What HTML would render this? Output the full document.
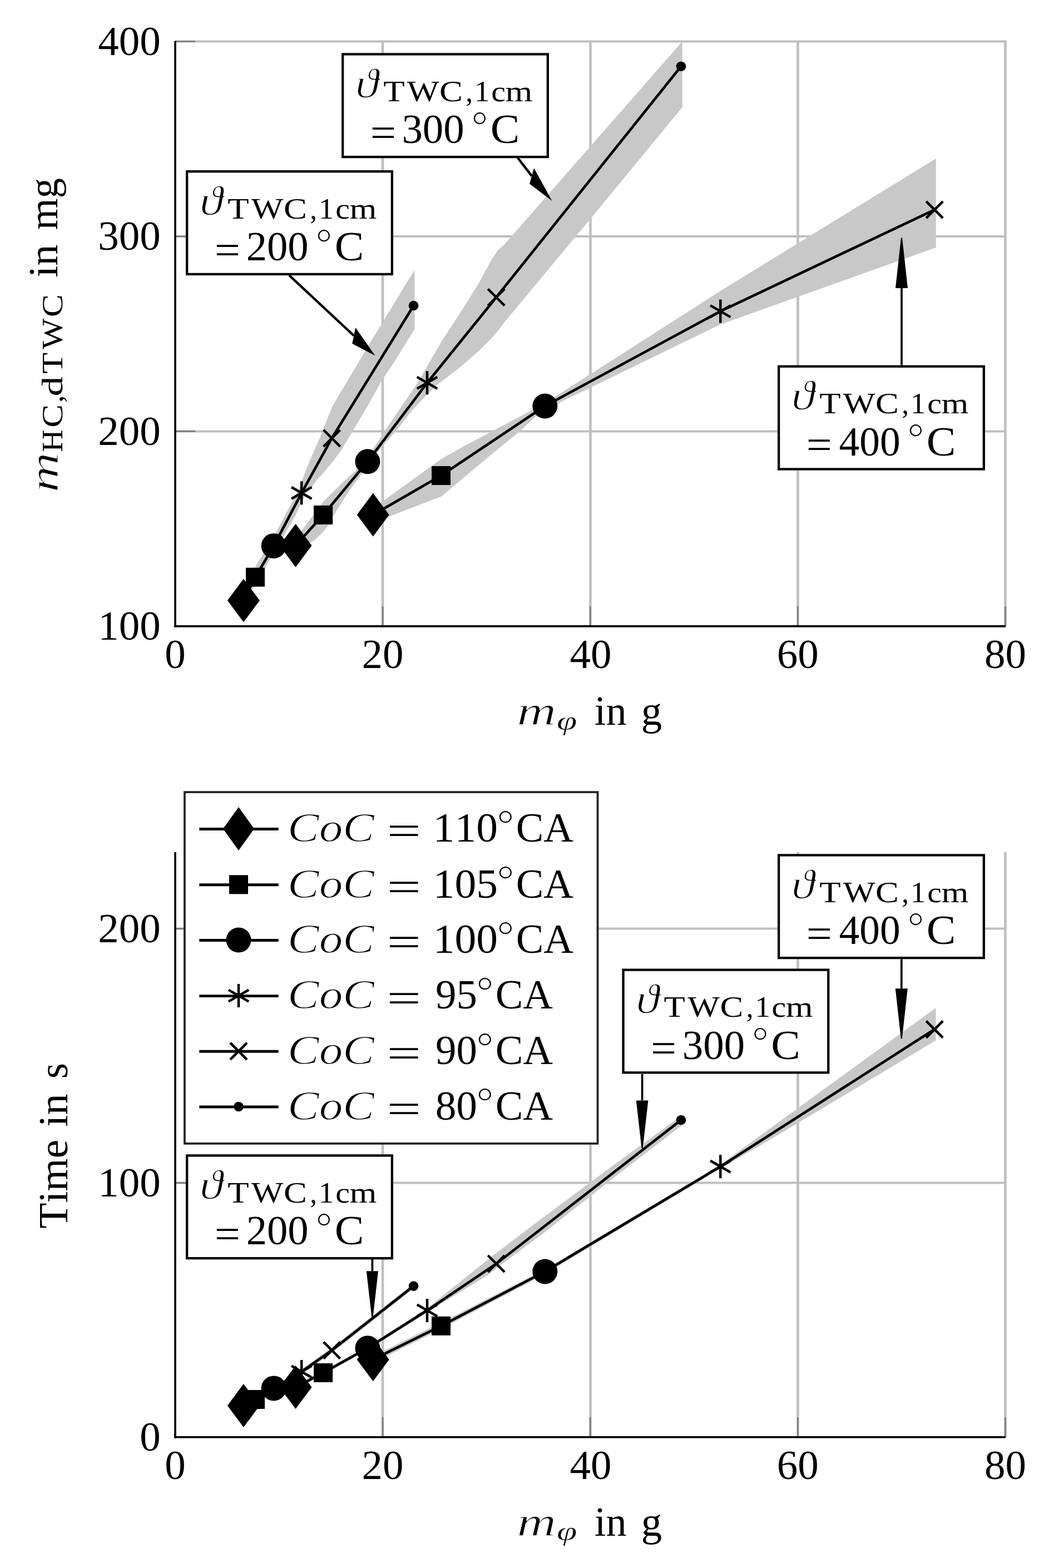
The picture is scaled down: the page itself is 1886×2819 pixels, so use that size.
<!DOCTYPE html>
<html><head><meta charset="utf-8"><title>chart</title>
<style>
html,body{margin:0;padding:0;background:#fff;}
svg{display:block;}
text{font-family:"Liberation Serif",serif;font-kerning:none;font-variant-ligatures:none;fill:#000;}
text.i{font-style:italic;stroke:#fff;stroke-width:1.3px;paint-order:fill stroke;}
text.t{stroke-width:0.4px;}
text.d{stroke:#fff;stroke-width:1.4px;paint-order:fill stroke;}
</style></head><body>
<svg width="1886" height="2819" viewBox="0 0 1886 2819">
<rect width="1886" height="2819" fill="#fff"/>
<defs><clipPath id="c1"><rect x="313" y="74.5" width="1500" height="1052"/></clipPath><clipPath id="c2"><rect x="313" y="1532" width="1500" height="1052"/></clipPath></defs>
<line x1="688.00" y1="73.8" x2="688.00" y2="1125.9" stroke="#bfbfbf" stroke-width="4.6"/><line x1="1061.50" y1="73.8" x2="1061.50" y2="1125.9" stroke="#bfbfbf" stroke-width="4.6"/><line x1="1434.50" y1="73.8" x2="1434.50" y2="1125.9" stroke="#bfbfbf" stroke-width="4.6"/><line x1="1807.50" y1="73.8" x2="1807.50" y2="1125.9" stroke="#bfbfbf" stroke-width="4.6"/><line x1="315.0" y1="775.4" x2="1809.8" y2="775.4" stroke="#bfbfbf" stroke-width="4.0"/><line x1="315.0" y1="425.0" x2="1809.8" y2="425.0" stroke="#bfbfbf" stroke-width="4.0"/><line x1="315.0" y1="74.5" x2="1809.8" y2="74.5" stroke="#bfbfbf" stroke-width="4.0"/>
<g clip-path="url(#c1)"><polygon points="745.5,484.9 665.7,615.8 597.8,730.0 593.7,740.2 581.4,770.8 571.2,796.3 564.8,810.0 552.3,839.5 543.4,862.7 535.4,884.1 511.0,929.0 492.2,965.0 463.0,1012.0 440.0,1060.0 440.0,1085.0 458.0,1052.0 486.0,1005.0 530.0,929.0 550.5,885.9 561.2,875.2 569.3,863.6 583.6,847.5 597.9,830.5 613.0,810.0 635.5,772.9 661.0,730.0 685.6,685.4 709.3,650.0 745.5,591.6" fill="#c8c8c8"/><polygon points="1226.8,74.5 906.4,440.0 894.2,451.1 883.2,467.7 861.0,508.8 827.7,562.1 794.4,613.1 767.1,660.0 753.8,684.1 722.5,729.6 686.8,782.3 670.7,807.3 642.5,843.0 614.8,868.9 581.8,901.1 563.0,926.1 542.5,953.8 531.5,968.0 531.5,990.0 558.6,975.2 565.7,970.7 580.0,957.3 590.7,943.9 597.9,929.6 628.2,881.4 650.5,852.0 677.9,813.6 713.6,772.5 740.4,738.6 767.1,710.0 788.6,689.5 797.7,683.0 827.7,659.7 861.0,630.8 883.2,608.7 896.5,593.1 910.0,575.4 1063.6,390.9 1226.8,192.7" fill="#c8c8c8"/><polygon points="1682.8,285.0 1295.3,523.0 995.3,715.1 958.2,736.5 836.1,801.0 793.0,825.5 689.5,900.2 670.7,913.0 670.7,935.0 699.3,928.8 794.0,892.2 822.1,868.4 864.2,833.3 906.3,798.2 934.3,775.8 963.8,747.7 990.0,735.0 1010.0,721.8 1295.3,583.3 1682.8,445.0" fill="#c8c8c8"/></g>
<polyline points="437.9,1079.4 459.0,1037.7 492.2,981.4 542.2,886.3 596.6,787.8 743.6,549.5" fill="none" stroke="#000" stroke-width="4.7" stroke-linejoin="round"/><path d="M437.9,1040.4L466.9,1079.4L437.9,1118.4L408.9,1079.4Z"/><rect x="442.0" y="1020.7" width="34" height="34"/><circle cx="492.2" cy="981.4" r="22.5"/><path d="M542.2,865.3L542.2,907.3M524.0,875.8L560.4,896.8M524.0,896.8L560.4,875.8" fill="none" stroke="#000" stroke-width="4.5"/><path d="M581.6,772.8L611.6,802.8M581.6,802.8L611.6,772.8" fill="none" stroke="#000" stroke-width="4.5" stroke-linecap="butt"/><circle cx="743.6" cy="549.5" r="8.8"/><polyline points="531.5,980.7 581.1,925.8 660.9,829.8 768.0,688.3 892.2,534.5 1224.5,119.2" fill="none" stroke="#000" stroke-width="4.7" stroke-linejoin="round"/><path d="M531.5,941.7L560.5,980.7L531.5,1019.7L502.5,980.7Z"/><rect x="564.1" y="908.8" width="34" height="34"/><circle cx="660.9" cy="829.8" r="22.5"/><path d="M768.0,667.3L768.0,709.3M749.8,677.8L786.2,698.8M749.8,698.8L786.2,677.8" fill="none" stroke="#000" stroke-width="4.5"/><path d="M877.2,519.5L907.2,549.5M877.2,549.5L907.2,519.5" fill="none" stroke="#000" stroke-width="4.5" stroke-linecap="butt"/><circle cx="1224.5" cy="119.2" r="8.8"/><polyline points="670.7,925.6 793.0,855.0 979.8,730.0 1295.3,559.6 1680.2,377.1" fill="none" stroke="#000" stroke-width="4.7" stroke-linejoin="round"/><path d="M670.7,886.6L699.7,925.6L670.7,964.6L641.7,925.6Z"/><rect x="776.0" y="838.0" width="34" height="34"/><circle cx="979.8" cy="730.0" r="22.5"/><path d="M1295.3,538.6L1295.3,580.6M1277.1,549.1L1313.5,570.1M1277.1,570.1L1313.5,549.1" fill="none" stroke="#000" stroke-width="4.5"/><path d="M1665.2,362.1L1695.2,392.1M1665.2,392.1L1695.2,362.1" fill="none" stroke="#000" stroke-width="4.5" stroke-linecap="butt"/>
<line x1="315.0" y1="1090.1" x2="315.0" y2="1125.9" stroke="#7a7a7a" stroke-width="2.6"/><line x1="688.1" y1="1090.1" x2="688.1" y2="1125.9" stroke="#7a7a7a" stroke-width="2.6"/><line x1="1061.2" y1="1090.1" x2="1061.2" y2="1125.9" stroke="#7a7a7a" stroke-width="2.6"/><line x1="1434.4" y1="1090.1" x2="1434.4" y2="1125.9" stroke="#7a7a7a" stroke-width="2.6"/><line x1="1807.5" y1="1090.1" x2="1807.5" y2="1125.9" stroke="#7a7a7a" stroke-width="2.6"/><line x1="315.0" y1="1125.9" x2="351.0" y2="1125.9" stroke="#7a7a7a" stroke-width="2.6"/><line x1="315.0" y1="775.4" x2="351.0" y2="775.4" stroke="#7a7a7a" stroke-width="2.6"/><line x1="315.0" y1="425.0" x2="351.0" y2="425.0" stroke="#7a7a7a" stroke-width="2.6"/><line x1="315.0" y1="74.5" x2="351.0" y2="74.5" stroke="#7a7a7a" stroke-width="2.6"/><line x1="315.0" y1="73.8" x2="315.0" y2="1127.7" stroke="#000" stroke-width="3.6"/><line x1="313.2" y1="1125.9" x2="1807.8" y2="1125.9" stroke="#000" stroke-width="3.6"/><text class="r" x="176.16" y="1150.10" font-size="75">100</text><text class="r" x="176.16" y="799.63" font-size="75">200</text><text class="r" x="176.16" y="449.17" font-size="75">300</text><text class="r" x="176.16" y="98.70" font-size="75">400</text><text class="r" x="296.25" y="1201.20" font-size="75">0</text><text class="r" x="650.41" y="1201.20" font-size="75">20</text><text class="r" x="1024.45" y="1201.20" font-size="75">40</text><text class="r" x="1396.69" y="1201.20" font-size="75">60</text><text class="r" x="1770.00" y="1201.20" font-size="75">80</text>
<rect x="336.15" y="308.25" width="368.70" height="184.70" fill="#fff" stroke="#000" stroke-width="4.3"/><text class="i" transform="translate(359.28,385.60) scale(1.1151,1)" font-size="75">ϑ</text><text class="r" transform="translate(409.16,392.80) scale(1.2082,1)" font-size="52">T</text><text class="r" transform="translate(451.84,392.80) scale(1.1752,1)" font-size="52">W</text><text class="r" transform="translate(510.03,392.80) scale(1.2061,1)" font-size="52">C</text><text class="r" transform="translate(557.26,392.80) scale(0.9814,1)" font-size="52">,</text><text class="r" transform="translate(572.83,392.80) scale(1.0652,1)" font-size="52">1</text><text class="r" transform="translate(603.20,392.80) scale(1.1128,1)" font-size="52">c</text><text class="r" transform="translate(628.38,392.80) scale(1.2090,1)" font-size="52">m</text><text class="r" transform="translate(385.72,473.60) scale(1.0917,1)" font-size="75">=</text><text class="r" transform="translate(442.72,468.10) scale(0.9949,1)" font-size="75">200</text><text class="r d" transform="translate(567.52,461.80) scale(0.9982,1)" font-size="75">°</text><text class="r" transform="translate(601.77,468.10) scale(1.0512,1)" font-size="75">C</text>
<rect x="616.15" y="97.45" width="368.70" height="184.70" fill="#fff" stroke="#000" stroke-width="4.3"/><text class="i" transform="translate(639.28,174.80) scale(1.1151,1)" font-size="75">ϑ</text><text class="r" transform="translate(689.16,182.00) scale(1.2082,1)" font-size="52">T</text><text class="r" transform="translate(731.84,182.00) scale(1.1752,1)" font-size="52">W</text><text class="r" transform="translate(790.03,182.00) scale(1.2061,1)" font-size="52">C</text><text class="r" transform="translate(837.26,182.00) scale(0.9814,1)" font-size="52">,</text><text class="r" transform="translate(852.83,182.00) scale(1.0652,1)" font-size="52">1</text><text class="r" transform="translate(883.20,182.00) scale(1.1128,1)" font-size="52">c</text><text class="r" transform="translate(908.38,182.00) scale(1.2090,1)" font-size="52">m</text><text class="r" transform="translate(665.72,262.80) scale(1.0917,1)" font-size="75">=</text><text class="r" transform="translate(722.42,257.30) scale(0.9976,1)" font-size="75">300</text><text class="r d" transform="translate(847.52,251.00) scale(0.9982,1)" font-size="75">°</text><text class="r" transform="translate(881.77,257.30) scale(1.0512,1)" font-size="75">C</text>
<rect x="1400.15" y="658.75" width="368.70" height="184.70" fill="#fff" stroke="#000" stroke-width="4.3"/><text class="i" transform="translate(1423.28,736.10) scale(1.1151,1)" font-size="75">ϑ</text><text class="r" transform="translate(1473.16,743.30) scale(1.2082,1)" font-size="52">T</text><text class="r" transform="translate(1515.84,743.30) scale(1.1752,1)" font-size="52">W</text><text class="r" transform="translate(1574.03,743.30) scale(1.2061,1)" font-size="52">C</text><text class="r" transform="translate(1621.26,743.30) scale(0.9814,1)" font-size="52">,</text><text class="r" transform="translate(1636.83,743.30) scale(1.0652,1)" font-size="52">1</text><text class="r" transform="translate(1667.20,743.30) scale(1.1128,1)" font-size="52">c</text><text class="r" transform="translate(1692.38,743.30) scale(1.2090,1)" font-size="52">m</text><text class="r" transform="translate(1449.72,824.10) scale(1.0917,1)" font-size="75">=</text><text class="r" transform="translate(1508.57,818.60) scale(0.9780,1)" font-size="75">400</text><text class="r d" transform="translate(1631.52,812.30) scale(0.9982,1)" font-size="75">°</text><text class="r" transform="translate(1665.77,818.60) scale(1.0512,1)" font-size="75">C</text>
<line x1="520.0" y1="495.0" x2="636.2" y2="603.5" stroke="#000" stroke-width="4.4"/><polygon points="674.6,639.5 639.2,589.1 633.2,617.8" fill="#000"/>
<line x1="931.0" y1="284.0" x2="956.0" y2="316.4" stroke="#000" stroke-width="4.4"/><polygon points="992.4,361.1 960.0,302.2 952.1,330.5" fill="#000"/>
<line x1="1621.0" y1="656.6" x2="1621.0" y2="518.0" stroke="#000" stroke-width="3.7"/><polygon points="1620.0,427.5 1622.0,427.5 1632.0,518.0 1610.0,518.0" fill="#000"/>
<text class="i" transform="translate(929.15,1303.00) scale(1.3084,1)" font-size="75">m</text><text class="i t" transform="translate(1001.04,1311.80) scale(1.3732,1)" font-size="48">φ</text><text class="r" transform="translate(1068.84,1303.00) scale(0.9905,1)" font-size="75">in</text><text class="r" transform="translate(1152.78,1303.00) scale(0.9985,1)" font-size="75">g</text>
<g transform="translate(0,0) rotate(-90)"><text class="i" transform="translate(-885.44,103.80) scale(1.3415,1)" font-size="75">m</text><text class="r" transform="translate(-812.50,112.10) scale(1.0686,1)" font-size="52">H</text><text class="r" transform="translate(-768.67,112.10) scale(1.2061,1)" font-size="52">C</text><text class="r" transform="translate(-723.79,112.10) scale(1.0072,1)" font-size="52">,</text><text class="r" transform="translate(-712.39,112.10) scale(1.3795,1)" font-size="52">d</text><text class="r" transform="translate(-671.72,112.10) scale(1.1949,1)" font-size="52">T</text><text class="r" transform="translate(-627.96,112.10) scale(1.1323,1)" font-size="52">W</text><text class="r" transform="translate(-569.91,112.10) scale(1.1792,1)" font-size="52">C</text><text class="r" transform="translate(-498.80,103.30) scale(1.0139,1)" font-size="75">in</text><text class="r" transform="translate(-413.23,103.30) scale(0.9705,1)" font-size="75">mg</text></g>
<line x1="688.00" y1="1532.0" x2="688.00" y2="2583.7" stroke="#bfbfbf" stroke-width="4.6"/><line x1="1061.50" y1="1532.0" x2="1061.50" y2="2583.7" stroke="#bfbfbf" stroke-width="4.6"/><line x1="1434.50" y1="1532.0" x2="1434.50" y2="2583.7" stroke="#bfbfbf" stroke-width="4.6"/><line x1="1807.50" y1="1532.0" x2="1807.50" y2="2583.7" stroke="#bfbfbf" stroke-width="4.6"/><line x1="315.0" y1="2126.6" x2="1809.8" y2="2126.6" stroke="#bfbfbf" stroke-width="4.0"/><line x1="315.0" y1="1669.6" x2="1809.8" y2="1669.6" stroke="#bfbfbf" stroke-width="4.0"/>
<g clip-path="url(#c2)"><polygon points="743.4,2307.5 596.8,2423.0 542.5,2461.5 493.7,2491.5 459.0,2511.5 437.9,2522.5 437.9,2531.5 459.0,2520.5 493.7,2500.5 542.5,2470.5 596.8,2432.5 743.4,2317.0" fill="#c8c8c8"/><polygon points="1224.9,2006.0 1100.0,2097.0 961.6,2200.0 883.8,2259.3 767.9,2352.0 660.6,2419.9 581.0,2464.5 531.5,2490.5 531.5,2497.5 581.0,2471.5 660.6,2427.5 767.9,2359.5 880.0,2290.6 899.1,2275.3 924.6,2256.1 980.0,2214.7 1100.0,2120.0 1224.9,2024.0" fill="#c8c8c8"/><polygon points="1682.5,1812.0 1380.0,2032.1 1295.6,2093.7 979.8,2282.0 792.6,2378.0 670.7,2438.2 670.7,2450.2 792.6,2389.6 979.8,2290.5 1295.6,2100.7 1380.0,2051.6 1682.5,1870.6" fill="#c8c8c8"/></g>
<polyline points="437.9,2527.0 459.0,2516.0 492.2,2495.9 542.2,2466.0 596.6,2427.6 743.6,2312.1" fill="none" stroke="#000" stroke-width="4.7" stroke-linejoin="round"/><path d="M437.9,2488.0L466.9,2527.0L437.9,2566.0L408.9,2527.0Z"/><rect x="442.0" y="2499.0" width="34" height="34"/><circle cx="492.2" cy="2495.9" r="22.5"/><path d="M542.2,2445.0L542.2,2487.0M524.0,2455.5L560.4,2476.5M524.0,2476.5L560.4,2455.5" fill="none" stroke="#000" stroke-width="4.5"/><path d="M581.6,2412.6L611.6,2442.6M581.6,2442.6L611.6,2412.6" fill="none" stroke="#000" stroke-width="4.5" stroke-linecap="butt"/><circle cx="743.6" cy="2312.1" r="8.8"/><polyline points="531.5,2494.0 581.1,2468.0 660.9,2423.8 768.0,2356.0 892.2,2272.0 1224.5,2013.6" fill="none" stroke="#000" stroke-width="4.7" stroke-linejoin="round"/><path d="M531.5,2455.0L560.5,2494.0L531.5,2533.0L502.5,2494.0Z"/><rect x="564.1" y="2451.0" width="34" height="34"/><circle cx="660.9" cy="2423.8" r="22.5"/><path d="M768.0,2335.0L768.0,2377.0M749.8,2345.5L786.2,2366.5M749.8,2366.5L786.2,2345.5" fill="none" stroke="#000" stroke-width="4.5"/><path d="M877.2,2257.0L907.2,2287.0M877.2,2287.0L907.2,2257.0" fill="none" stroke="#000" stroke-width="4.5" stroke-linecap="butt"/><circle cx="1224.5" cy="2013.6" r="8.8"/><polyline points="670.7,2444.2 793.0,2383.8 979.8,2286.0 1295.3,2097.2 1680.2,1850.6" fill="none" stroke="#000" stroke-width="4.7" stroke-linejoin="round"/><path d="M670.7,2405.2L699.7,2444.2L670.7,2483.2L641.7,2444.2Z"/><rect x="776.0" y="2366.8" width="34" height="34"/><circle cx="979.8" cy="2286.0" r="22.5"/><path d="M1295.3,2076.2L1295.3,2118.2M1277.1,2086.7L1313.5,2107.7M1277.1,2107.7L1313.5,2086.7" fill="none" stroke="#000" stroke-width="4.5"/><path d="M1665.2,1835.6L1695.2,1865.6M1665.2,1865.6L1695.2,1835.6" fill="none" stroke="#000" stroke-width="4.5" stroke-linecap="butt"/>
<line x1="315.0" y1="2547.9" x2="315.0" y2="2583.7" stroke="#7a7a7a" stroke-width="2.6"/><line x1="688.1" y1="2547.9" x2="688.1" y2="2583.7" stroke="#7a7a7a" stroke-width="2.6"/><line x1="1061.2" y1="2547.9" x2="1061.2" y2="2583.7" stroke="#7a7a7a" stroke-width="2.6"/><line x1="1434.4" y1="2547.9" x2="1434.4" y2="2583.7" stroke="#7a7a7a" stroke-width="2.6"/><line x1="1807.5" y1="2547.9" x2="1807.5" y2="2583.7" stroke="#7a7a7a" stroke-width="2.6"/><line x1="315.0" y1="2583.7" x2="351.0" y2="2583.7" stroke="#7a7a7a" stroke-width="2.6"/><line x1="315.0" y1="2126.6" x2="351.0" y2="2126.6" stroke="#7a7a7a" stroke-width="2.6"/><line x1="315.0" y1="1669.6" x2="351.0" y2="1669.6" stroke="#7a7a7a" stroke-width="2.6"/><line x1="315.0" y1="1532.0" x2="315.0" y2="2585.5" stroke="#000" stroke-width="3.6"/><line x1="313.2" y1="2583.7" x2="1807.8" y2="2583.7" stroke="#000" stroke-width="3.6"/><text class="r" x="251.16" y="2607.90" font-size="75">0</text><text class="r" x="176.16" y="2150.85" font-size="75">100</text><text class="r" x="176.16" y="1693.80" font-size="75">200</text><text class="r" x="296.25" y="2659.00" font-size="75">0</text><text class="r" x="650.41" y="2659.00" font-size="75">20</text><text class="r" x="1024.45" y="2659.00" font-size="75">40</text><text class="r" x="1396.69" y="2659.00" font-size="75">60</text><text class="r" x="1770.00" y="2659.00" font-size="75">80</text>
<rect x="336.15" y="2077.45" width="368.70" height="184.70" fill="#fff" stroke="#000" stroke-width="4.3"/><text class="i" transform="translate(359.28,2154.80) scale(1.1151,1)" font-size="75">ϑ</text><text class="r" transform="translate(409.16,2162.00) scale(1.2082,1)" font-size="52">T</text><text class="r" transform="translate(451.84,2162.00) scale(1.1752,1)" font-size="52">W</text><text class="r" transform="translate(510.03,2162.00) scale(1.2061,1)" font-size="52">C</text><text class="r" transform="translate(557.26,2162.00) scale(0.9814,1)" font-size="52">,</text><text class="r" transform="translate(572.83,2162.00) scale(1.0652,1)" font-size="52">1</text><text class="r" transform="translate(603.20,2162.00) scale(1.1128,1)" font-size="52">c</text><text class="r" transform="translate(628.38,2162.00) scale(1.2090,1)" font-size="52">m</text><text class="r" transform="translate(385.72,2242.80) scale(1.0917,1)" font-size="75">=</text><text class="r" transform="translate(442.72,2237.30) scale(0.9949,1)" font-size="75">200</text><text class="r d" transform="translate(567.52,2231.00) scale(0.9982,1)" font-size="75">°</text><text class="r" transform="translate(601.77,2237.30) scale(1.0512,1)" font-size="75">C</text>
<rect x="1120.55" y="1743.65" width="368.70" height="184.70" fill="#fff" stroke="#000" stroke-width="4.3"/><text class="i" transform="translate(1143.68,1821.00) scale(1.1151,1)" font-size="75">ϑ</text><text class="r" transform="translate(1193.56,1828.20) scale(1.2082,1)" font-size="52">T</text><text class="r" transform="translate(1236.24,1828.20) scale(1.1752,1)" font-size="52">W</text><text class="r" transform="translate(1294.43,1828.20) scale(1.2061,1)" font-size="52">C</text><text class="r" transform="translate(1341.66,1828.20) scale(0.9814,1)" font-size="52">,</text><text class="r" transform="translate(1357.23,1828.20) scale(1.0652,1)" font-size="52">1</text><text class="r" transform="translate(1387.60,1828.20) scale(1.1128,1)" font-size="52">c</text><text class="r" transform="translate(1412.78,1828.20) scale(1.2090,1)" font-size="52">m</text><text class="r" transform="translate(1170.12,1909.00) scale(1.0917,1)" font-size="75">=</text><text class="r" transform="translate(1226.82,1903.50) scale(0.9976,1)" font-size="75">300</text><text class="r d" transform="translate(1351.92,1897.20) scale(0.9982,1)" font-size="75">°</text><text class="r" transform="translate(1386.17,1903.50) scale(1.0512,1)" font-size="75">C</text>
<rect x="1400.15" y="1537.45" width="368.70" height="184.70" fill="#fff" stroke="#000" stroke-width="4.3"/><text class="i" transform="translate(1423.28,1614.80) scale(1.1151,1)" font-size="75">ϑ</text><text class="r" transform="translate(1473.16,1622.00) scale(1.2082,1)" font-size="52">T</text><text class="r" transform="translate(1515.84,1622.00) scale(1.1752,1)" font-size="52">W</text><text class="r" transform="translate(1574.03,1622.00) scale(1.2061,1)" font-size="52">C</text><text class="r" transform="translate(1621.26,1622.00) scale(0.9814,1)" font-size="52">,</text><text class="r" transform="translate(1636.83,1622.00) scale(1.0652,1)" font-size="52">1</text><text class="r" transform="translate(1667.20,1622.00) scale(1.1128,1)" font-size="52">c</text><text class="r" transform="translate(1692.38,1622.00) scale(1.2090,1)" font-size="52">m</text><text class="r" transform="translate(1449.72,1702.80) scale(1.0917,1)" font-size="75">=</text><text class="r" transform="translate(1508.57,1697.30) scale(0.9780,1)" font-size="75">400</text><text class="r d" transform="translate(1631.52,1691.00) scale(0.9982,1)" font-size="75">°</text><text class="r" transform="translate(1665.77,1697.30) scale(1.0512,1)" font-size="75">C</text>
<line x1="669.4" y1="2264.0" x2="669.4" y2="2285.3" stroke="#000" stroke-width="3.7"/><polygon points="668.4,2369.0 670.4,2369.0 680.0,2285.3 658.8,2285.3" fill="#000"/>
<line x1="1154.6" y1="1931.0" x2="1154.6" y2="1978.4" stroke="#000" stroke-width="3.7"/><polygon points="1153.6,2064.6 1155.6,2064.6 1165.4,1978.4 1143.8,1978.4" fill="#000"/>
<line x1="1620.8" y1="1724.5" x2="1620.8" y2="1777.3" stroke="#000" stroke-width="3.7"/><polygon points="1619.8,1867.3 1621.8,1867.3 1631.8,1777.3 1609.8,1777.3" fill="#000"/>
<rect x="331.9" y="1424.1" width="742.6" height="631.8" fill="#fff" stroke="#262626" stroke-width="3.8"/><line x1="358.3" y1="1490.5" x2="500.7" y2="1490.5" stroke="#000" stroke-width="4.9"/><path d="M429.0,1451.0L457.0,1490.0L429.0,1529.0L401.0,1490.0Z"/><text class="i" transform="translate(517.06,1513.20) scale(1.1345,1)" font-size="75">CoC</text><text class="r" transform="translate(695.57,1518.40) scale(1.4527,1)" font-size="75">=</text><text class="r" transform="translate(778.69,1513.20) scale(1.0335,1)" font-size="75">110</text><text class="r d" transform="translate(893.26,1506.70) scale(1.0421,1)" font-size="75">°</text><text class="r" transform="translate(927.75,1513.20) scale(0.9914,1)" font-size="75">CA</text><line x1="358.3" y1="1590.8" x2="500.7" y2="1590.8" stroke="#000" stroke-width="4.9"/><rect x="412.0" y="1573.3" width="34" height="34"/><text class="i" transform="translate(517.06,1613.50) scale(1.1345,1)" font-size="75">CoC</text><text class="r" transform="translate(695.57,1618.70) scale(1.4527,1)" font-size="75">=</text><text class="r" transform="translate(778.68,1613.50) scale(1.0342,1)" font-size="75">105</text><text class="r d" transform="translate(893.26,1607.00) scale(1.0421,1)" font-size="75">°</text><text class="r" transform="translate(927.75,1613.50) scale(0.9914,1)" font-size="75">CA</text><line x1="358.3" y1="1690.5" x2="500.7" y2="1690.5" stroke="#000" stroke-width="4.9"/><circle cx="429.0" cy="1690.0" r="22.5"/><text class="i" transform="translate(517.06,1713.20) scale(1.1345,1)" font-size="75">CoC</text><text class="r" transform="translate(695.57,1718.40) scale(1.4527,1)" font-size="75">=</text><text class="r" transform="translate(778.69,1713.20) scale(1.0335,1)" font-size="75">100</text><text class="r d" transform="translate(893.26,1706.70) scale(1.0421,1)" font-size="75">°</text><text class="r" transform="translate(927.75,1713.20) scale(0.9914,1)" font-size="75">CA</text><line x1="358.3" y1="1790.6" x2="500.7" y2="1790.6" stroke="#000" stroke-width="4.9"/><path d="M429.0,1769.1L429.0,1811.1M410.8,1779.6L447.2,1800.6M410.8,1800.6L447.2,1779.6" fill="none" stroke="#000" stroke-width="4.5"/><text class="i" transform="translate(517.06,1813.30) scale(1.1345,1)" font-size="75">CoC</text><text class="r" transform="translate(695.57,1818.50) scale(1.4527,1)" font-size="75">=</text><text class="r" transform="translate(783.09,1813.30) scale(0.9978,1)" font-size="75">95</text><text class="r d" transform="translate(856.26,1806.80) scale(1.0421,1)" font-size="75">°</text><text class="r" transform="translate(890.75,1813.30) scale(0.9914,1)" font-size="75">CA</text><line x1="358.3" y1="1890.3" x2="500.7" y2="1890.3" stroke="#000" stroke-width="4.9"/><path d="M414.0,1874.8L444.0,1904.8M414.0,1904.8L444.0,1874.8" fill="none" stroke="#000" stroke-width="4.5" stroke-linecap="butt"/><text class="i" transform="translate(517.06,1913.00) scale(1.1345,1)" font-size="75">CoC</text><text class="r" transform="translate(695.57,1918.20) scale(1.4527,1)" font-size="75">=</text><text class="r" transform="translate(783.09,1913.00) scale(0.9968,1)" font-size="75">90</text><text class="r d" transform="translate(856.26,1906.50) scale(1.0421,1)" font-size="75">°</text><text class="r" transform="translate(890.75,1913.00) scale(0.9914,1)" font-size="75">CA</text><line x1="358.3" y1="1990.0" x2="500.7" y2="1990.0" stroke="#000" stroke-width="4.9"/><circle cx="429.0" cy="1989.5" r="8.8"/><text class="i" transform="translate(517.06,2012.70) scale(1.1345,1)" font-size="75">CoC</text><text class="r" transform="translate(695.57,2017.90) scale(1.4527,1)" font-size="75">=</text><text class="r" transform="translate(782.63,2012.70) scale(1.0031,1)" font-size="75">80</text><text class="r d" transform="translate(856.26,2006.20) scale(1.0421,1)" font-size="75">°</text><text class="r" transform="translate(890.75,2012.70) scale(0.9914,1)" font-size="75">CA</text>
<text class="i" transform="translate(929.15,2760.60) scale(1.3084,1)" font-size="75">m</text><text class="i t" transform="translate(1001.04,2769.40) scale(1.3732,1)" font-size="48">φ</text><text class="r" transform="translate(1068.84,2760.60) scale(0.9905,1)" font-size="75">in</text><text class="r" transform="translate(1152.78,2760.60) scale(0.9985,1)" font-size="75">g</text>
<g transform="rotate(-90)"><text class="r" transform="translate(-2208.87,120.80) scale(1.0109,1)" font-size="75">Time</text><text class="r" transform="translate(-2025.80,120.80) scale(1.0175,1)" font-size="75">in</text><text class="r" transform="translate(-1939.16,120.80) scale(0.9615,1)" font-size="75">s</text></g>
</svg>
</body></html>
